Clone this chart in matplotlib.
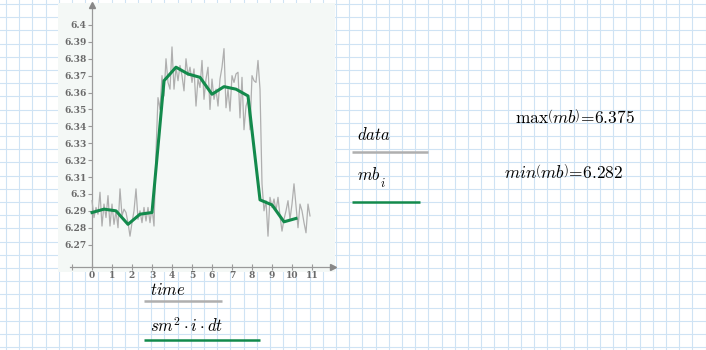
import numpy as np
import matplotlib
matplotlib.use('Agg')
import matplotlib.pyplot as plt

plt.rcParams['mathtext.fontset'] = 'cm'

# gray trace: "data", sampled every 0.1
time = np.round(np.arange(0, 11.0, 0.1), 1)
data = [6.296, 6.286, 6.292, 6.288, 6.301, 6.281, 6.294, 6.286, 6.299, 6.281,
        6.294, 6.282, 6.290, 6.280, 6.303, 6.287, 6.291, 6.289, 6.283, 6.275,
        6.283, 6.290, 6.303, 6.285, 6.290, 6.283, 6.292, 6.284, 6.292, 6.283,
        6.292, 6.281, 6.325, 6.357, 6.350, 6.370, 6.358, 6.380, 6.366, 6.362,
        6.387, 6.362, 6.375, 6.367, 6.376, 6.370, 6.361, 6.380, 6.370, 6.375,
        6.366, 6.374, 6.352, 6.368, 6.363, 6.379, 6.356, 6.368, 6.375, 6.350,
        6.368, 6.356, 6.362, 6.352, 6.368, 6.375, 6.386, 6.351, 6.362, 6.349,
        6.370, 6.366, 6.371, 6.372, 6.345, 6.369, 6.338, 6.352, 6.356, 6.338,
        6.370, 6.367, 6.366, 6.379, 6.362, 6.306, 6.290, 6.296, 6.275, 6.298,
        6.292, 6.297, 6.290, 6.298, 6.287, 6.278, 6.285, 6.290, 6.296, 6.285,
        6.294, 6.306, 6.293, 6.280, 6.294, 6.290, 6.283, 6.277, 6.294, 6.287]

# green trace: smoothed "mb_i" at sm^2 * i * dt
sm_time = np.round(np.arange(18) * 0.6, 1)
mb = [6.289, 6.291, 6.290, 6.282, 6.288, 6.289, 6.367, 6.375, 6.371, 6.369,
      6.359, 6.3635, 6.362, 6.358, 6.2965, 6.2935, 6.2835, 6.2855]

xticks = list(range(0, 12))
yticks = [6.27, 6.28, 6.29, 6.3, 6.31, 6.32, 6.33, 6.34, 6.35, 6.36, 6.37, 6.38, 6.39, 6.4]

W, H = 706, 350
GRAY = '#afafaf'
GREEN = '#138a4c'
AXC = '#9a9a9a'

fig = plt.figure(figsize=(W / 100, H / 100), dpi=100)
fig.patch.set_facecolor('white')

# grid paper background
bg = fig.add_axes([0, 0, 1, 1], zorder=0)
bg.set_xlim(0, W)
bg.set_ylim(H, 0)
bg.axis('off')
for gx in np.arange(6, W, 13.2):
    bg.axvline(gx, color='#cfe3f4', lw=0.8)
for gy in np.arange(4, H, 13.2):
    bg.axhline(gy, color='#cfe3f4', lw=0.8)


def px(x0, y0, x1, y1):
    return [x0 / W, 1 - y1 / H, (x1 - x0) / W, (y1 - y0) / H]


# plot panel: 20 px per time unit, 16.9 px per 0.01
ax = fig.add_axes(px(58, 3, 335, 272), zorder=1)
ax.set_facecolor('#f4f8f6')
ax.set_xlim(-1.7, 12.15)
ax.set_ylim(6.2538, 6.4130)
y0 = 6.2567

ax.plot(time, data, color=GRAY, lw=0.9, zorder=3)
ax.plot(sm_time, mb, color=GREEN, lw=2.2, zorder=4)

for s in ['top', 'right']:
    ax.spines[s].set_visible(False)
ax.spines['left'].set_position(('data', 0))
ax.spines['bottom'].set_position(('data', y0))
ax.spines['left'].set_bounds(y0, 6.4118)
ax.spines['bottom'].set_bounds(-1.1, 12.0)
for s in ['left', 'bottom']:
    ax.spines[s].set_color(AXC)
    ax.spines[s].set_linewidth(0.9)
ax.plot(12.05, y0, marker='>', color='#888888', ms=5, clip_on=False, zorder=5)
ax.plot(0, 6.4118, marker='^', color='#888888', ms=5, clip_on=False, zorder=5)

ax.set_xticks(xticks + [-1])
ax.set_xticklabels([str(t) for t in xticks] + [''])
ax.set_yticks(yticks)
ax.set_yticklabels(['%g' % v for v in yticks])
ax.tick_params(axis='both', colors=AXC, labelcolor='#6a6a6a', labelsize=6.5, width=0.8)
ax.tick_params(axis='x', direction='inout', length=5, pad=0.5)
ax.tick_params(axis='y', direction='out', length=3, pad=1)
for lab in ax.get_xticklabels() + ax.get_yticklabels():
    lab.set_fontfamily('DejaVu Serif')
    lab.set_fontweight('bold')

# trace labels with their line swatches
def label(x, y, txt, x0, x1, ly, color):
    fig.text(x / W, 1 - y / H, txt, fontsize=12, va='baseline', ha='left', color='black')
    bg.plot([x0, x1], [ly, ly], color=color, lw=1.8, solid_capstyle='butt')

label(150, 295, r'$time$', 144, 222, 301, GRAY)
label(150, 332, r'$sm^2\cdot i\cdot dt$', 144, 260, 340, GREEN)
label(357, 140, r'$data$', 352, 428, 152, GRAY)
label(357, 180, r'$mb$', 352, 420, 202, GREEN)
fig.text(380 / W, 1 - 187 / H, r'$i$', fontsize=9, va='baseline', ha='left')

fig.text(515 / W, 1 - 118 / H, r'$\mathrm{max}\left(mb\right)\!=\!6.375$', fontsize=12.5, va='center')
fig.text(504 / W, 1 - 173 / H, r'$min\left(mb\right)\!=\!6.282$', fontsize=12.5, va='center')

fig.savefig('out.png', dpi=100)
